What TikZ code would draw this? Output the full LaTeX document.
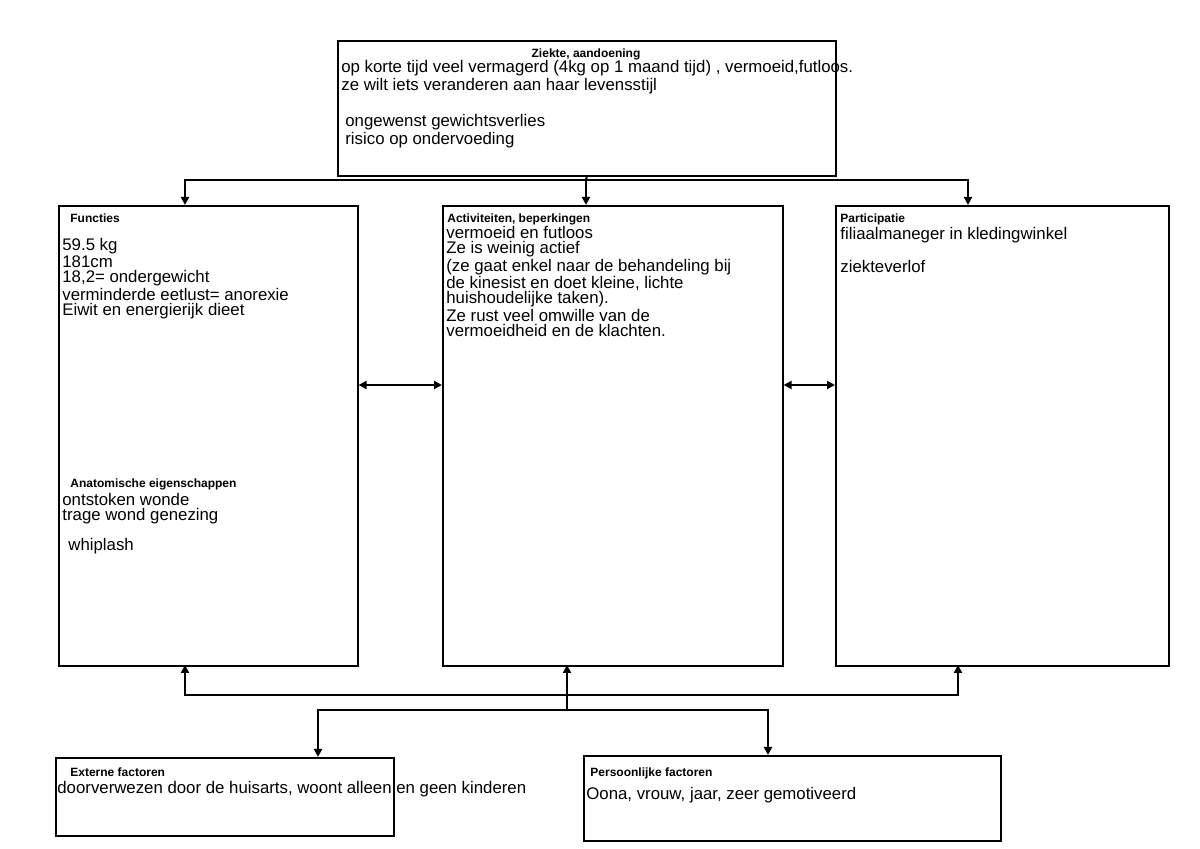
\documentclass[tikz,border=0pt]{standalone}
\usepackage{fontspec}
\setmainfont{Liberation Sans}
\usetikzlibrary{arrows.meta, positioning}

\begin{document}
\begin{tikzpicture}[x=0.5pt, y=-0.5pt,
    box/.style={draw, line width=0.8pt, anchor=north west, inner sep=0pt},
    title/.style={anchor=north west, inner sep=0pt, font=\fontsize{6}{7}\selectfont\bfseries},
    body/.style={anchor=north west, inner sep=0pt, align=left, font=\fontsize{8.4}{7.5}\selectfont},
    link/.style={line width=1pt},
    arr/.style={line width=1pt, -{Triangle[length=4pt, width=4pt]}},
    darr/.style={line width=1pt, {Triangle[length=4pt, width=4pt]}-{Triangle[length=4pt, width=4pt]}}]
    \useasboundingbox (0,0) rectangle (1200,849);
    % boxes
    \node[box, minimum width=249pt, minimum height=67.5pt] (ziekte) at (337,40) {};
    \node[box, minimum width=149.5pt, minimum height=230pt] (functies) at (58,205) {};
    \node[box, minimum width=170pt, minimum height=230pt] (activiteiten) at (442,205) {};
    \node[box, minimum width=166.5pt, minimum height=230pt] (participatie) at (835,205) {};
    \node[box, minimum width=169pt, minimum height=39pt] (extern) at (55,757) {};
    \node[box, minimum width=208.5pt, minimum height=42.5pt] (persoonlijk) at (583,755) {};
    % texts
    \node[title, anchor=north] (tz) at (586,48) {Ziekte, aandoening};
    \node[body] (bz) at (341,60) {op korte tijd veel vermagerd (4kg op 1 maand tijd) , vermoeid,futloos.\\ze wilt iets veranderen aan haar levensstijl};
    \node[body] (bz2) at (345,114) {ongewenst gewichtsverlies\\risico op ondervoeding};
    \node[title] (tf) at (70,213) {Functies};
    \node[body] (bf) at (62,238) {59.5 kg\\181cm\\18,2= ondergewicht\\verminderde eetlust= anorexie\\Eiwit en energierijk dieet};
    \node[title] (ta) at (70,478) {Anatomische eigenschappen};
    \node[body] (ba) at (62,493) {ontstoken wonde\\trage wond genezing};
    \node[body] (bw) at (68,538) {whiplash};
    \node[title] (tac) at (447,213) {Activiteiten, beperkingen};
    \node[body] (bac) at (446,226) {vermoeid en futloos\\Ze is weinig actief\\(ze gaat enkel naar de behandeling bij\\de kinesist en doet kleine, lichte\\huishoudelijke taken).\\Ze rust veel omwille van de\\vermoeidheid en de klachten.};
    \node[title] (tp) at (840,213) {Participatie};
    \node[body] (bp) at (840,227) {filiaalmaneger in kledingwinkel\\[7.5pt]ziekteverlof};
    \node[title] (te) at (70,767) {Externe factoren};
    \node[body] (be) at (57,781) {doorverwezen door de huisarts, woont alleen en geen kinderen};
    \node[title] (tpe) at (590,767) {Persoonlijke factoren};
    \node[body] (bpe) at (586,787) {Oona, vrouw,  jaar, zeer gemotiveerd};
    % top connectors
    \coordinate (split) at (586,180);
    \coordinate (fin) at (185,205);
    \coordinate (pin) at (968,205);
    \draw[link] (ziekte.south) -- (split);
    \draw[arr] (split) -| (fin);
    \draw[arr] (split) -- (split |- activiteiten.north);
    \draw[arr] (split) -| (pin);
    % side connectors
    \draw[darr] (functies.east |- 0,385) -- (activiteiten.west |- 0,385);
    \draw[darr] (activiteiten.east |- 0,385) -- (participatie.west |- 0,385);
    % bottom connectors
    \coordinate (mid) at (567,695);
    \coordinate (fout) at (185,665);
    \coordinate (pout) at (958,665);
    \coordinate (low) at (567,710);
    \draw[arr] (mid) -| (fout);
    \draw[arr] (mid) -| (pout);
    \draw[arr] (low) -- (567,665);
    \draw[arr] (low) -| (318,757);
    \draw[arr] (low) -| (768,755);
\end{tikzpicture}
\end{document}
